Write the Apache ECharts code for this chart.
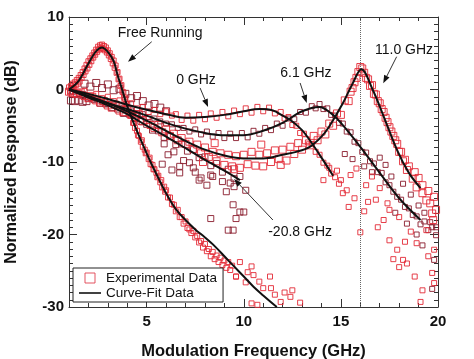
<!DOCTYPE html>
<html><head><meta charset="utf-8">
<script src="https://cdn.jsdelivr.net/npm/echarts@6/dist/echarts.min.js"></script>
<style>html,body{margin:0;padding:0;background:#fff}#c{width:474px;height:359px}</style>
</head><body><div id="c"></div>
<script>
// ---- tick labels ----
const xTickLabels = [5, 10, 15, 20];
const yTickLabels = [-30, -20, -10, 0, 10];

// ---- curve-fit data [GHz, dB] ----
const fitFreeRunning = [[1,0],[1.5,1.2],[2,3.6],[2.4,5.3],[2.7,5.8],[3.0,5.2],[3.3,3.9],[3.5,2.0],[3.7,0.3],[4.0,-2.3],[4.4,-5.1],[4.8,-7.6],[5.2,-10],[5.6,-12.2],[6,-14.3],[6.5,-16.5],[7,-18.0],[7.5,-19.3],[8,-20.4],[8.5,-21.6],[9,-23.0],[9.5,-24.4],[10,-25.8],[10.5,-27.2],[11,-28.4],[11.7,-30]];
const fit0GHz = [[1,0],[2,-0.6],[3,-1.3],[4,-2.1],[5,-2.8],[6,-3.4],[7,-3.9],[8,-3.8],[9,-3.5],[10,-3.0],[10.8,-2.7],[11.5,-2.9],[12,-3.6],[12.4,-4.2],[13,-5.6],[13.4,-7.0],[14,-9.4],[14.6,-11.9]];
const fit6p1GHz = [[1,0],[2,-1],[3,-1.9],[4,-2.7],[5,-3.6],[6,-4.6],[7,-5.4],[8,-6],[9,-6.3],[10,-6.3],[11,-5.7],[12,-4.6],[13,-3.0],[13.9,-2.4],[14.5,-3.3],[15,-4.6],[16,-7.9],[17,-11.5],[18,-15],[19.1,-18]];
const fit11GHz = [[1,0],[2,-0.9],[3,-1.9],[4,-3.0],[5,-4.3],[6,-5.7],[7,-7.1],[8,-8.3],[9,-9.1],[10,-9.5],[11,-9.5],[12,-9.0],[12.7,-8.6],[13.4,-7.9],[14,-6.5],[14.4,-5.1],[15.1,-1.9],[15.6,0.8],[16.05,2.8],[16.65,-0.1],[17.2,-3.7],[17.9,-8.4],[18.5,-11.5],[19.1,-13.6]];
const fitMinus20p8GHz = [[1,0],[2,-1.1],[3,-2.2],[4,-3.4],[5,-5.0],[6,-6.5],[7,-8.1],[8,-9.7],[9,-11.2],[9.8,-12.5]];

// ---- experimental data [GHz, dB] ----
const expFreeRunning = [[1.0,0.3],[1.05,-0.4],[1.1,0.5],[1.15,0.1],[1.2,0.8],[1.25,0.2],[1.3,1.0],[1.35,0.6],[1.4,1.3],[1.45,0.8],[1.5,1.6],[1.55,1.1],[1.6,2.0],[1.65,1.6],[1.7,2.4],[1.75,2.0],[1.8,2.9],[1.85,2.5],[1.9,3.4],[1.95,2.9],[2.0,3.9],[2.05,3.4],[2.1,4.3],[2.15,3.9],[2.2,4.7],[2.25,4.4],[2.3,5.1],[2.35,4.8],[2.4,5.5],[2.45,5.2],[2.5,5.9],[2.55,5.5],[2.6,6.1],[2.65,5.7],[2.7,6.2],[2.75,5.6],[2.8,6.0],[2.85,5.4],[2.9,5.8],[2.95,5.1],[3.0,5.4],[3.05,4.7],[3.1,5.0],[3.15,4.2],[3.2,4.5],[3.25,3.6],[3.3,4.0],[3.35,3.0],[3.4,3.3],[3.45,2.3],[3.5,2.4],[3.55,1.4],[3.6,1.5],[3.65,0.5],[3.7,0.6],[3.75,-0.3],[3.8,-0.4],[3.85,-1.1],[3.9,-1.3],[3.95,-2.0],[4.0,-2.0],[4.1,-3.1],[4.15,-3.4],[4.2,-3.6],[4.3,-4.6],[4.35,-4.6],[4.4,-5.3],[4.5,-5.7],[4.55,-6.3],[4.6,-6.4],[4.7,-7.2],[4.75,-7.0],[4.8,-7.9],[4.9,-8.3],[4.95,-8.8],[5.0,-8.7],[5.1,-9.6],[5.15,-9.4],[5.2,-10.3],[5.3,-10.4],[5.35,-11.0],[5.4,-11.0],[5.5,-11.5],[5.55,-12.1],[5.6,-11.9],[5.7,-12.8],[5.75,-12.5],[5.8,-13.5],[5.9,-13.4],[5.95,-14.1],[6.0,-13.9],[6.1,-14.9],[6.2,-14.9],[6.3,-15.8],[6.4,-15.9],[6.5,-16.8],[6.6,-16.6],[6.7,-17.6],[6.8,-17.6],[6.9,-18.5],[7.0,-18.2],[7.1,-19.1],[7.2,-19.3],[7.3,-19.8],[7.4,-19.5],[7.5,-20.4],[7.6,-20.2],[7.7,-21.1],[7.8,-20.9],[7.9,-21.8],[8.0,-21.3],[8.1,-22.3],[8.2,-22.0],[8.3,-23.0],[8.4,-22.4],[8.5,-23.4],[8.6,-22.9],[8.7,-23.8],[8.8,-23.2],[8.9,-24.2],[9.0,-23.6],[9.1,-24.6],[9.2,-23.8],[9.3,-24.9],[9.4,-24.3],[9.6,-25.8],[9.8,-23.8],[10.4,-24.4],[9.6,-25.8],[10.5,-25.6],[11.35,-25.8],[10.8,-26.5],[11.0,-27.4],[11.4,-27.4],[12.5,-27.7],[12.4,-28.6],[12.9,-29.4],[11.9,-29.3],[10.4,-29.5],[10.7,-29.7],[10.1,-26.6],[10.2,-25.2],[11.6,-28.3],[12.1,-28.0]];
const exp0GHz = [[1.2,0.2],[1.5,-0.4],[1.8,-0.2],[2.1,-0.8],[2.4,-0.6],[2.7,-1.2],[3.0,-1.0],[3.3,-1.6],[3.6,-1.5],[3.9,-2.2],[4.2,-1.9],[4.5,-2.6],[4.8,-2.4],[5.1,-3.1],[5.4,-2.8],[5.7,-3.4],[6.0,-3.0],[6.3,-3.6],[6.5,-3.4],[6.8,-4.2],[7.1,-3.6],[7.4,-4.3],[7.7,-3.5],[8.0,-4.1],[8.3,-3.3],[8.6,-3.9],[8.9,-3.1],[9.2,-3.7],[9.5,-2.9],[9.8,-3.4],[10.1,-2.6],[10.4,-3.2],[10.7,-2.4],[11.0,-3.0],[11.3,-2.5],[11.6,-3.3],[11.9,-3.1],[12.1,-4.0],[12.3,-3.8],[12.5,-4.9],[12.7,-5.0],[12.9,-6.0],[13.1,-6.1],[13.3,-7.3],[13.5,-7.5],[13.7,-8.6],[13.9,-9.0],[14.1,-10.1],[14.3,-10.5],[14.5,-11.6],[14.7,-12.1],[14.9,-13.0],[14.1,-12.5],[15,-12.5],[15.5,-11.8],[15.1,-14.3],[15.4,-16.2],[16,-19.7],[16.3,-13.2],[16.8,-15.2],[17.5,-16.6],[18,-17.6],[17.5,-20.8],[17.9,-22.1],[18.2,-23.5],[18.4,-24],[18,-24.5],[18.9,-21.2],[19.4,-19.4],[19.8,-22.1],[19.7,-25.3],[19.8,-26.7],[19.2,-27.7],[19.1,-29.3],[15.3,-13.9],[16.4,-15.5],[17.4,-15.7],[14.4,-10.8],[14.8,-11.2],[15.8,-10.9],[16.6,-12.0],[17.0,-13.6],[17.2,-18.0],[18.6,-19.6],[18.3,-21.0],[17.7,-23.4],[18.8,-25.8],[19.5,-23.0],[16.2,-16.8],[15.7,-15.0],[16.9,-19.0]];
const exp0GHzLarge = [[1.8,0.8],[2.1,0.4],[2.4,0.9],[2.7,0.2],[3.0,0.7],[3.3,-0.1],[3.6,0.1],[3.9,-0.6],[4.2,-1.2],[4.5,-0.9],[4.8,-1.6],[5.1,-2.2],[5.4,-2.0],[5.7,-2.5],[6.0,-3.0],[1.1,-1.5],[1.3,-1.6],[1.5,-1.5],[1.7,-1.7],[1.9,-1.6]];
const exp6p1GHz = [[1.2,-0.3],[1.5,-0.6],[1.8,-0.8],[2.1,-1.2],[2.4,-1.3],[2.7,-1.7],[3.0,-2.0],[3.3,-2.1],[3.6,-2.5],[3.9,-2.7],[4.2,-2.9],[4.5,-3.3],[4.8,-3.4],[5.1,-3.8],[5.4,-4.0],[5.7,-4.4],[6.0,-4.7],[6.3,-4.8],[6.6,-5.3],[6.9,-5.3],[7.2,-5.8],[7.5,-5.5],[7.8,-6.2],[8.1,-5.8],[8.4,-6.5],[8.7,-6.0],[9.0,-6.7],[9.3,-6.1],[9.6,-6.7],[9.9,-6.0],[10.2,-6.6],[10.5,-5.7],[10.8,-6.1],[11.1,-5.3],[11.4,-5.6],[11.7,-4.7],[12.0,-5.0],[12.3,-4.0],[12.6,-4.1],[12.9,-3.1],[13.2,-3.2],[13.5,-2.3],[13.7,-2.6],[13.9,-2.0],[14.1,-2.7],[14.3,-2.6],[14.5,-3.5],[14.7,-3.6],[14.9,-4.6],[15.1,-4.7],[15.3,-5.8],[15.5,-5.9],[15.7,-7.2],[15.9,-7.4],[16.1,-8.6],[16.3,-8.7],[16.5,-9.9],[16.7,-10.2],[16.9,-11.4],[17.1,-11.5],[17.3,-12.8],[17.5,-13.2],[17.7,-14.1],[17.9,-14.8],[18.1,-15.2],[18.3,-16.2],[18.5,-16.4],[18.7,-17.3],[18.9,-17.5],[19.1,-18.6],[19.3,-18.2],[19.5,-19.4],[19.7,-19.0],[19.9,-20.1],[15.2,-8.9],[15.6,-9.6],[16.2,-10.6],[16.6,-11.4],[17.0,-9.4],[17.3,-10.4],[17.6,-12.0],[18.2,-13.0],[18.6,-14.5],[19.0,-16.0],[19.3,-17.0],[19.6,-18.3],[18.9,-20.0],[19.2,-21.5],[19.8,-23.5],[19.7,-27.5],[19.9,-19.0],[18.4,-18.5],[17.8,-17.0]];
const exp11GHz = [[1.0,-0.3],[1.2,-0.5],[1.4,-0.6],[1.6,-0.4],[1.8,-0.9],[2.0,-1.2],[2.2,-1.0],[2.4,-1.5],[2.6,-1.8],[2.8,-1.6],[3.0,-2.2],[3.2,-2.5],[3.4,-2.1],[3.6,-2.9],[3.8,-3.1],[4.0,-2.7],[4.2,-3.5],[4.4,-3.8],[4.6,-3.4],[4.8,-4.4],[5.0,-4.2],[5.2,-4.9],[5.4,-5.3],[5.6,-4.9],[5.8,-5.9],[6.0,-5.5],[6.2,-6.4],[6.4,-6.1],[6.6,-7.0],[6.8,-6.7],[7.0,-7.5],[7.2,-7.2],[7.4,-8.2],[7.6,-7.6],[7.8,-8.8],[8.0,-8.0],[8.2,-9.3],[8.4,-8.6],[8.6,-9.9],[8.8,-8.8],[9.0,-10.4],[9.2,-9.0],[9.4,-10.6],[9.6,-9.2],[9.8,-10.8],[10.0,-9.0],[10.2,-10.3],[10.4,-8.6],[10.6,-10.5],[10.8,-9.0],[11.0,-10.6],[11.2,-8.8],[11.4,-10.0],[11.6,-8.4],[11.8,-9.6],[12.0,-8.3],[12.2,-9.8],[12.4,-7.9],[12.6,-8.9],[12.8,-7.4],[13.0,-8.3],[13.2,-7.0],[13.4,-7.7],[13.6,-6.4],[13.8,-7.0],[14.0,-5.8],[14.2,-6.2],[14.4,-4.7],[14.6,-5.0],[14.8,-3.3],[15.0,-3.5],[15.2,-1.5],[15.4,-1.6],[15.5,-0.3],[15.6,0.2],[15.7,1.0],[15.8,1.6],[15.9,2.4],[16.0,3.1],[16.1,2.9],[16.2,2.3],[16.3,1.6],[16.4,1.4],[16.5,0.5],[16.6,0.6],[16.7,-0.6],[16.8,-0.7],[16.9,-1.6],[17.0,-1.9],[17.1,-2.7],[17.2,-3.1],[17.3,-3.9],[17.4,-4.5],[17.5,-5.2],[17.6,-5.8],[17.7,-6.4],[17.8,-7.0],[17.9,-7.5],[18.0,-8.6],[18.1,-8.6],[18.2,-9.9],[18.3,-9.7],[18.4,-11.1],[18.5,-10.6],[18.7,-12.3],[18.8,-11.4],[18.9,-13.5],[19.0,-12.2],[19.2,-14.3],[19.2,-13.2],[19.4,-15.3],[19.6,-15.7],[19.7,-17.1],[19.75,-18],[19.9,-16.6],[19.5,-14.0],[19.8,-14.8],[8.5,-7.4],[9.5,-11.0],[10.9,-7.6],[11.9,-10.4],[7.9,-10.0]];
const expMinus20p8GHz = [[1.1,-0.2],[1.4,-0.6],[1.7,-0.7],[2.0,-1.2],[2.3,-1.4],[2.6,-1.9],[2.9,-2.0],[3.2,-2.5],[3.5,-2.7],[3.8,-3.3],[4.1,-3.4],[4.4,-4.0],[4.7,-4.4],[5.0,-4.8],[5.3,-5.6],[5.6,-5.7],[5.9,-6.6],[6.2,-6.5],[6.5,-7.6],[6.8,-7.5],[7.1,-8.5],[7.4,-8.3],[7.7,-9.4],[8.0,-9.3],[8.3,-10.5],[8.6,-10.2],[8.9,-11.4],[9.2,-11.0],[9.5,-12.3],[9.8,-12.0],[10.1,-13.9],[10.0,-16.9],[9.45,-15.9],[9.45,-19.4],[6.3,-11.1],[6.7,-10.6],[7.4,-10.8],[7.8,-12.2],[8.3,-11.8],[8.9,-12.7],[9.1,-14.1],[9.5,-13.4],[9.8,-16.9],[9.6,-17.8],[9.2,-19.4],[8.3,-17.8],[7.7,-12.5],[8.4,-12.0],[6.7,-11.5],[9.3,-12.9],[5.9,-7.5],[6.1,-9.0],[6.4,-8.6],[6.9,-9.8],[7.2,-10.1],[5.8,-10.3],[7.5,-11.4],[8.1,-13.2]];

// ---- annotations (data coordinates) ----
const annotationTexts = ['Free Running', '0 GHz', '6.1 GHz', '11.0 GHz', '-20.8 GHz'];
const annotationTextAt = [[5.69,7.79],[7.54,1.31],[13.2,2.28],[18.25,5.45],[12.9,-19.66]];
const annotationArrowFrom = [[5.26,6.59],[7.75,0.21],[12.9,0.9],[17.87,4.52],[11.5,-18.0]];
const annotationArrowTo = [[4.04,3.83],[8.16,-2.41],[13.24,-1.86],[17.18,0.86],[9.5,-12.34]];
const lockingLineX = 16;

const FONT = 'Liberation Sans, Arial, Helvetica, sans-serif';
const RED = '#e32a36';
const DARK = '#8a1c2c';

function scatter(data, color, size) {
  return { type:'scatter', name:'Experimental Data', data, symbol:'rect', symbolSize:size,
    itemStyle:{color:'transparent', borderColor:color, borderWidth:1, opacity:0.9}, z:2, silent:true, animation:false };
}
function fit(data) {
  return { type:'line', name:'Curve-Fit Data', data, smooth:0.35, symbol:'none', showSymbol:false,
    lineStyle:{color:'#111', width:2}, itemStyle:{color:'#111'}, z:5, animation:false, clip:true };
}

const chart = echarts.init(document.getElementById('c'), null, {renderer:'canvas'});
const axisLine = {show:true, onZero:false, lineStyle:{color:'#333', width:1}};
const axisCommon = { type:'value', splitLine:{show:false}, axisLine };
const option = {
  animation:false,
  backgroundColor:'#fff',
  grid:{left:69, right:36, top:17, bottom:52, containLabel:false, outerBoundsMode:'none'},
  legend:{
    left:73, top:268, orient:'vertical', backgroundColor:'#fff', borderColor:'#222', borderWidth:1,
    padding:[3,6,2,6], itemGap:1, itemWidth:22, itemHeight:10,
    textStyle:{fontSize:13.5, color:'#111', fontFamily:FONT},
    selectedMode:false,
    data:[
      {name:'Experimental Data', icon:'path://M0,0H10V10H0Z', itemStyle:{color:'transparent', borderColor:'#e04050', borderWidth:1}},
      {name:'Curve-Fit Data', icon:'path://M0,0H22V1.6H0Z', itemStyle:{color:'#111', borderWidth:0}}
    ]
  },
  xAxis:[
    Object.assign({}, axisCommon, {min:1, max:20, interval:1, position:'bottom',
      axisTick:{inside:true, length:4, lineStyle:{color:'#333'}}, axisLabel:{show:false}}),
    Object.assign({}, axisCommon, {min:1, max:20, position:'bottom', axisLine:{show:false, onZero:false},
      axisTick:{inside:true, length:8, customValues:xTickLabels, lineStyle:{color:'#333'}},
      axisLabel:{customValues:xTickLabels, fontSize:15, fontWeight:'bold', color:'#111', fontFamily:FONT, margin:7},
      name:'Modulation Frequency (GHz)', nameLocation:'middle', nameGap:36,
      nameTextStyle:{fontSize:16.5, fontWeight:'bold', color:'#111', fontFamily:FONT}}),
    Object.assign({}, axisCommon, {min:1, max:20, interval:1, position:'top',
      axisTick:{inside:true, length:4, lineStyle:{color:'#333'}}, axisLabel:{show:false}}),
    Object.assign({}, axisCommon, {min:1, max:20, position:'top', axisLine:{show:false, onZero:false},
      axisTick:{inside:true, length:8, customValues:xTickLabels, lineStyle:{color:'#333'}}, axisLabel:{show:false}})
  ],
  yAxis:[
    Object.assign({}, axisCommon, {min:-30, max:10, interval:10, position:'left',
      axisTick:{inside:true, length:8, lineStyle:{color:'#333'}},
      minorTick:{show:true, splitNumber:10, length:4, lineStyle:{color:'#333'}},
      axisLabel:{fontSize:15, fontWeight:'bold', color:'#111', fontFamily:FONT, margin:5,
        customValues:yTickLabels},
      name:'Normalized Response (dB)', nameLocation:'middle', nameGap:49, nameRotate:90,
      nameTextStyle:{fontSize:16, fontWeight:'bold', color:'#111', fontFamily:FONT}}),
    Object.assign({}, axisCommon, {min:-30, max:10, interval:10, position:'right',
      axisTick:{inside:true, length:8, lineStyle:{color:'#333'}},
      minorTick:{show:true, splitNumber:10, length:4, lineStyle:{color:'#333'}},
      axisLabel:{show:false}})
  ],
  series:[
    scatter(expMinus20p8GHz, DARK, 6),
    scatter(exp6p1GHz, DARK, 5),
    scatter(exp0GHzLarge, DARK, 7),
    scatter(exp0GHz, RED, 5),
    scatter(exp11GHz, RED, 7),
    scatter(expFreeRunning, RED, 5),
    fit(fitFreeRunning), fit(fit0GHz), fit(fit6p1GHz), fit(fit11GHz),
    Object.assign(fit(fitMinus20p8GHz), {
      markLine:{silent:true, symbol:'none', label:{show:false}, animation:false,
        lineStyle:{type:'dotted', color:'#666', width:1}, data:[{xAxis:lockingLineX}]}
    })
  ]
};
chart.setOption(option);

// annotations: text + arrows, positioned through the chart's own scales
const px = p => chart.convertToPixel({xAxisIndex:0, yAxisIndex:0}, p);
const graphics = [];
annotationTexts.forEach((t, i) => {
  const c = px(annotationTextAt[i]);
  graphics.push({type:'text', x:c[0], y:c[1], silent:true,
    style:{text:t, fontSize:14, fontFamily:FONT, fill:'#111', align:'center', verticalAlign:'middle'}, z:20});
  const a = px(annotationArrowFrom[i]), b = px(annotationArrowTo[i]);
  const dx = b[0]-a[0], dy = b[1]-a[1], L = Math.hypot(dx, dy);
  const ux = dx/L, uy = dy/L, hl = 8, hw = 3;
  const base = [b[0]-ux*hl, b[1]-uy*hl];
  graphics.push({type:'line', silent:true, shape:{x1:a[0], y1:a[1], x2:base[0], y2:base[1]},
    style:{stroke:'#333', lineWidth:1}, z:20});
  graphics.push({type:'polygon', silent:true, shape:{points:[b, [base[0]-uy*hw, base[1]+ux*hw], [base[0]+uy*hw, base[1]-ux*hw]]},
    style:{fill:'#111'}, z:20});
});
chart.setOption({graphic:graphics});
</script></body></html>
